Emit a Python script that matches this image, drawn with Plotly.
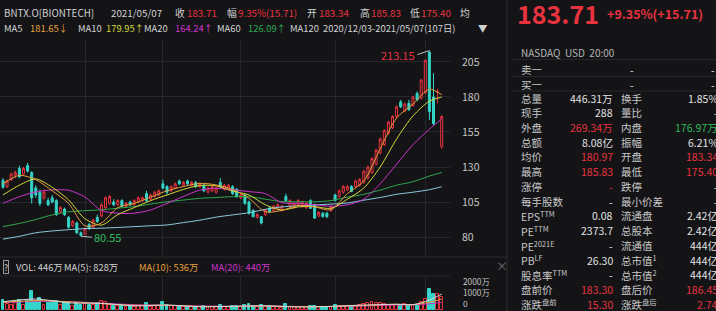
import plotly.graph_objects as go

W_, H_ = 716, 311
BG = '#141417'
RED = '#e8333f'
CYAN = '#35d4c8'
GREEN = '#2eb85c'
ORANGE = '#e6a03c'
YELLOW = '#d6d83a'
MAGENTA = '#cc34cc'
MA60C = '#2fa84f'
MA120C = '#8ccbe0'
GRID = '#24272d'
TXT = '#d2d2d2'
FONT = 'Noto Sans CJK SC'

# ---------------- data ----------------
opens = [120.5, 116, 121, 124, 129, 125, 131, 126, 115, 112,
         108, 106, 108, 106, 98, 100, 94, 88, 90, 83,
         82, 89, 87, 94, 95, 101, 104, 105, 103, 106,
         102, 105, 103, 105, 106, 111, 107, 109, 110, 118,
         116, 113, 115, 120, 117, 120, 117, 119, 116, 117,
         112, 113, 112, 119, 114, 115, 116, 114, 108, 110,
         105, 99, 94, 94.5, 96, 100.7, 99, 100, 99, 109,
         102, 101, 103, 102, 101, 106, 103, 95, 97, 97,
         99, 110, 109, 112, 113.6, 116, 116, 117, 119, 122,
         126, 132, 140, 146, 154, 158, 166, 176.5, 170, 175.5,
         174, 182.5, 179, 183, 212, 180, 183.34, 144.5]
highs = [122, 121, 126, 127.5, 131, 130, 133, 127, 117, 114,
         114, 108, 110, 107, 102, 101, 95, 92, 91, 84,
         87, 90, 93, 96, 104, 109, 110, 107, 107, 107,
         105, 106, 107, 109, 109, 113, 111, 113, 114, 121,
         117, 117, 119, 121, 120, 121, 120, 120, 119, 118,
         116, 117, 116, 122, 118, 118, 117, 115, 111, 111,
         106, 100, 97, 95, 100, 101.5, 103, 104, 103, 111,
         107, 105, 107, 106, 105, 107, 104, 98.5, 98, 98,
         102.5, 111, 114, 117, 117, 117, 121, 122, 128, 131,
         137, 143, 151, 157, 163, 167, 174, 178, 176, 178,
         181, 184, 193, 207, 213.15, 197, 185.83, 167]
lows = [114.5, 115, 120, 122, 122, 124, 126, 104, 108, 102,
        106, 102, 104, 95, 97, 95, 86, 87, 82, 80.55,
        81.5, 85, 86, 90, 94, 100, 103, 102, 102, 101,
        101, 102, 102, 104, 105, 105, 106, 108, 109, 114,
        110, 112, 114, 117, 116, 117, 116, 115, 115, 112,
        111, 112, 111, 115, 113, 114, 110, 108, 107, 103,
        96, 94, 93, 89, 95, 97, 98, 99, 98, 105,
        101, 100, 102, 101, 100, 100, 93, 94, 94, 93.5,
        98, 105.5, 108, 111, 113, 112, 115, 116, 118, 121,
        125, 131, 139, 145, 153, 157, 165, 172, 169, 170,
        173, 177, 178, 182, 163.6, 160, 175.40, 143]
closes = [115.5, 120, 125, 126, 123, 129, 127, 108, 110, 104,
          112, 103, 105, 96, 101, 96, 87, 91, 83, 81,
          86, 86, 92, 91, 103, 108, 109, 103, 106, 102,
          104, 103, 106, 108, 108, 106, 110, 112, 113, 115,
          112, 116, 118, 118, 119, 118, 119, 116, 118, 113,
          115, 116, 115, 116, 117, 117, 111, 109, 110, 104,
          97, 94.5, 96, 90, 99, 98, 102, 103, 102, 106,
          106, 104, 106, 105, 104, 100.5, 93.5, 97.5, 94.5, 94.5,
          101.7, 106, 113, 116, 116, 112.5, 120, 121, 127, 130,
          136, 142, 150, 156, 162, 166, 173, 173, 175, 171,
          180, 178, 192, 206, 169.5, 161, 183.71, 166]
volumes = [950, 550, 450, 600, 900, 500, 800, 1750, 850, 1050,
           500, 650, 850, 800, 450, 700, 700, 350, 650, 500,
           550, 450, 500, 600, 800, 700, 500, 400, 350, 450,
           300, 350, 300, 400, 350, 650, 300, 350, 400, 700,
           500, 400, 350, 350, 300, 300, 250, 300, 250, 350,
           300, 250, 300, 500, 300, 250, 400, 350, 250, 450,
           550, 400, 300, 450, 300, 350, 250, 250, 200, 550,
           300, 250, 250, 300, 300, 350, 400, 250, 300, 300,
           250, 450, 400, 350, 400, 350, 400, 450, 550, 600,
           700, 650, 600, 550, 500, 450, 500, 400, 550, 450,
           500, 450, 700, 1000, 1950, 1500, 1450, 1200]

ma_idx = [0, 4, 8, 12, 16, 20, 24, 28, 32, 36, 40, 44, 48, 52, 56, 60, 64, 68,
          72, 76, 80, 84, 88, 92, 96, 100, 104, 107]
ma5 = [118, 124, 121, 113, 104, 88, 90, 101, 104, 108.5, 113, 116, 118.3, 117.2,
       114, 107.6, 98, 99, 102.5, 101.5, 99.5, 111, 120, 143, 165, 175, 185.5, 181.65]
ma10 = [110, 117, 121.5, 115.5, 106.5, 93, 88.5, 96, 101, 106, 110, 114, 116.8, 116.5,
        112.8, 110, 103, 99.3, 101.5, 101.7, 100.5, 107, 115, 130, 150, 166.5, 177, 179.95]
ma20 = [104, 108.8, 112.2, 113.6, 113.4, 108.5, 99, 97, 97, 99.3, 104, 109, 113.5, 114.8,
        113.8, 112.4, 111, 104.5, 104, 103, 102, 103, 107, 118, 132, 146, 157, 164.24]
ma60 = [87.4, 89.7, 92.5, 95.8, 98, 98.8, 99.4, 100.6, 101.7, 103.5, 105.2, 106.4, 107.6,
        108.2, 108.8, 108.8, 107, 105.3, 105.2, 105.2, 106, 108.5, 110.5, 113.5, 117, 119.5,
        123.5, 126.09]
ma120 = [78.5, 80.5, 83, 84.3, 85.2, 86, 86.3, 86.8, 87.4, 88, 88.6, 90.3, 92, 94.2, 95.8,
         97.3, 99.8, 101.5, 102.3, 102.9, 103.5, 104.3, 106.3, 108.2, 110.5, 112, 113.8, 115.9]

vma_idx = [0, 8, 16, 24, 32, 40, 48, 56, 64, 72, 80, 88, 96, 100, 104, 107]
vma5 = [750, 1000, 650, 600, 380, 450, 300, 330, 380, 280, 330, 450, 520, 480, 900, 1450]
vma10 = [700, 850, 750, 580, 430, 430, 330, 330, 360, 300, 320, 400, 520, 500, 700, 1000]
vma20 = [680, 780, 760, 620, 480, 420, 360, 340, 350, 320, 320, 370, 460, 480, 560, 700]

price_ticks = [80, 105, 130, 155, 180, 205]
vol_ticks = [0, 1000, 2000]
vol_tick_text = ['0', '1000万', '2000万']
month_starts = [20, 39, 58, 81, 103]

idx = list(range(len(closes)))
up = [c >= o for o, c in zip(opens, closes)]

fig = go.Figure()
fig.add_trace(go.Candlestick(
    x=idx, open=opens, high=highs, low=lows, close=closes,
    increasing=dict(line=dict(color=RED, width=1), fillcolor=BG),
    decreasing=dict(line=dict(color=CYAN, width=1), fillcolor=CYAN),
    whiskerwidth=0, xaxis='x', yaxis='y', hoverinfo='skip'))

for vals, col in [(ma120, MA120C), (ma60, MA60C), (ma20, MAGENTA), (ma10, YELLOW), (ma5, ORANGE)]:
    fig.add_trace(go.Scatter(x=ma_idx, y=vals, mode='lines',
                             line=dict(color=col, width=1, shape='spline', smoothing=0.8),
                             xaxis='x', yaxis='y', hoverinfo='skip'))

fig.add_trace(go.Bar(
    x=idx, y=volumes, width=0.7,
    marker=dict(color=[BG if u else CYAN for u in up],
                line=dict(color=[RED if u else CYAN for u in up], width=1)),
    xaxis='x2', yaxis='y2', hoverinfo='skip'))
for vals, col in [(vma20, MAGENTA), (vma10, ORANGE), (vma5, '#d8d8d8')]:
    fig.add_trace(go.Scatter(x=vma_idx, y=vals, mode='lines',
                             line=dict(color=col, width=1, shape='spline', smoothing=0.8),
                             xaxis='x2', yaxis='y2', hoverinfo='skip'))

# extreme markers
i_hi = highs.index(max(highs))
i_lo = lows.index(min(lows))
ann = []
ann.append(dict(x=i_hi, y=highs[i_hi], xref='x', yref='y', text=f'{highs[i_hi]:.2f}',
                showarrow=True, arrowhead=0, arrowwidth=1, arrowcolor='#bdbdbd',
                ax=-12, ay=4, xanchor='right', standoff=0,
                font=dict(color=RED, size=11, family=FONT)))
ann.append(dict(x=i_lo, y=lows[i_lo], xref='x', yref='y', text=f'{lows[i_lo]:.2f}',
                showarrow=True, arrowhead=0, arrowwidth=1, arrowcolor='#bdbdbd',
                ax=11, ay=1, xanchor='left', standoff=0,
                font=dict(color=GREEN, size=11, family=FONT)))

# volume axis labels (drawn just above their levels)
for v, t in zip(vol_ticks, vol_tick_text):
    ann.append(dict(x=462 / W_, xref='paper', y=v, yref='y2', text=t, showarrow=False,
                    xanchor='left', yanchor='middle', yshift=7, borderpad=0,
                    font=dict(color='#c4c4c4', size=8.3, family=FONT)))


def T(x, y, s, color=TXT, size=10, anchor='left', bold=False, **kw):
    d = dict(x=x / W_, y=1 - y / H_, xref='paper', yref='paper',
             text=('<b>' + s + '</b>') if bold else s, showarrow=False,
             xanchor=anchor, yanchor='middle', borderpad=0,
             font=dict(color=color, size=size, family=FONT))
    d.update(kw)
    ann.append(d)


# header row 1
for x, s, c in [(3, 'BNTX.O[BIONTECH]', TXT), (110, '2021/05/07', TXT), (174, '收', TXT),
                (186, '183.71', RED), (226, '幅', TXT), (237, '9.35%(15.71)', RED),
                (306, '开', TXT), (318, '183.34', RED), (359, '高', TXT), (370, '185.83', RED),
                (409, '低', TXT), (420, '175.40', RED), (459, '均', TXT)]:
    T(x, 12.5, s, c, size=9.8)
# header row 2
for x, s, c in [(3, 'MA5', TXT), (29, '181.65↓', ORANGE), (77, 'MA10', TXT),
                (105, '179.95↑', YELLOW), (143, 'MA20', TXT), (174, '164.24↑', MAGENTA),
                (216, 'MA60', TXT), (247, '126.09↑', MA60C), (289, 'MA120', TXT),
                (322, '2020/12/03-2021/05/07(107日)', TXT), (477, '▼', TXT)]:
    T(x, 28, s, c, size=9.4)

# volume header
T(3, 267, '?', TXT, size=8.5, bordercolor='#9a9a9a', borderwidth=1, borderpad=0)
for x, s, c in [(15, 'VOL: 446万', TXT), (63, 'MA(5): 828万', TXT),
                (138, 'MA(10): 536万', ORANGE), (210, 'MA(20): 440万', MAGENTA)]:
    T(x, 267, s, c, size=9.3)
T(502, 265, '×', '#6c6c6c', size=12, anchor='center')

# right panel
T(516, 13, '183.71', RED, size=25, bold=True)
T(606, 14, '+9.35%(+15.71)', RED, size=12.5, bold=True)
T(520, 53, 'NASDAQ  USD  20:00', '#b4b4b4', size=10)

row_y = [70, 84.3, 98.6, 113, 127.5, 142.2, 156.8, 171.6, 186.2, 201.2, 215.8,
         230.6, 245.5, 260, 274.7, 289.3, 304]
W1 = '#e2e2e2'
rows = [
    ('卖一', '', W1, '', '', W1),
    ('买一', '', W1, '', '', W1),
    ('总量', '446.31万', W1, '换手', '1.85%', W1),
    ('现手', '288', W1, '量比', '-', W1),
    ('外盘', '269.34万', RED, '内盘', '176.97万', GREEN),
    ('总额', '8.08亿', W1, '振幅', '6.21%', W1),
    ('均价', '180.97', RED, '开盘', '183.34', RED),
    ('最高', '185.83', RED, '最低', '175.40', RED),
    ('涨停', '-', RED, '跌停', '-', W1),
    ('每手股数', '-', W1, '最小价差', '-', W1),
    ('EPS<sup>TTM</sup>', '0.08', W1, '流通盘', '2.42亿', W1),
    ('PE<sup>TTM</sup>', '2373.7', W1, '总股本', '2.42亿', W1),
    ('PE<sup>2021E</sup>', '-', W1, '流通值', '444亿', W1),
    ('PB<sup>LF</sup>', '26.30', W1, '总市值<sup>1</sup>', '444亿', W1),
    ('股息率<sup>TTM</sup>', '-', W1, '总市值<sup>2</sup>', '444亿', W1),
    ('盘前价', '183.30', RED, '盘后价', '186.45', RED),
    ('涨跌<sup>盘前</sup>', '15.30', RED, '涨跌<sup>盘后</sup>', '2.74', RED),
]
for y, (l1, v1, c1, l2, v2, c2) in zip(row_y, rows):
    T(520, y, l1, '#c8c8c8', size=10.5)
    if v1:
        T(614, y, v1, c1, size=10.5, anchor='right')
    if l2:
        T(620, y, l2, '#c8c8c8', size=10.5)
    if v2:
        T(719, y, v2, c2, size=10.5, anchor='right')
for y in row_y[:2]:
    T(632, y, '-', W1, size=10.5, anchor='center')
    T(716, y, '-', W1, size=10.5, anchor='right')

shapes = [
    dict(type='line', xref='paper', yref='paper', x0=507 / W_, x1=507 / W_, y0=0, y1=1,
         line=dict(color='#2c2d33', width=1)),
    dict(type='line', xref='paper', yref='paper', x0=0, x1=507 / W_, y0=1 - 257 / H_,
         y1=1 - 257 / H_, line=dict(color='#2a2b31', width=1)),
    dict(type='line', xref='paper', yref='paper', x0=0, x1=450 / W_, y0=1 - 276 / H_,
         y1=1 - 276 / H_, line=dict(color=GRID, width=1)),
]
for y in [59.5, 76.5, 91]:
    shapes.append(dict(type='line', xref='paper', yref='paper', x0=512 / W_, x1=1,
                       y0=1 - y / H_, y1=1 - y / H_, line=dict(color='#25262c', width=1)))

xr = [-3 / 4.1, -3 / 4.1 + 450 / 4.1]
xd = [0, 450 / W_]
axis_common = dict(showline=False, zeroline=False, fixedrange=True)
fig.update_layout(
    width=W_, height=H_, margin=dict(l=0, r=0, t=0, b=0),
    paper_bgcolor=BG, plot_bgcolor=BG, showlegend=False, bargap=0,
    font=dict(family=FONT, color=TXT),
    xaxis=dict(domain=xd, range=xr, anchor='y', tickvals=month_starts, showticklabels=False,
               showgrid=True, gridcolor=GRID, gridwidth=1, ticks='',
               rangeslider=dict(visible=False), **axis_common),
    yaxis=dict(domain=[(H_ - 255) / H_, (H_ - 40) / H_], range=[67.14, 220.71], side='right',
               anchor='x', tickvals=price_ticks, showgrid=True, gridcolor=GRID, ticks='',
               ticklabelstandoff=11, tickfont=dict(size=10.5, color='#c4c4c4', family=FONT),
               **axis_common),
    xaxis2=dict(domain=xd, range=xr, anchor='y2', tickvals=month_starts, showticklabels=False,
                showgrid=True, gridcolor=GRID, ticks='', **axis_common),
    yaxis2=dict(domain=[0, 35 / H_], range=[-91, 3091], side='right', anchor='x2',
                tickvals=vol_ticks, showticklabels=False, showgrid=False, ticks='',
                **axis_common),
    annotations=ann, shapes=shapes,
)
fig.write_html('out.html')
